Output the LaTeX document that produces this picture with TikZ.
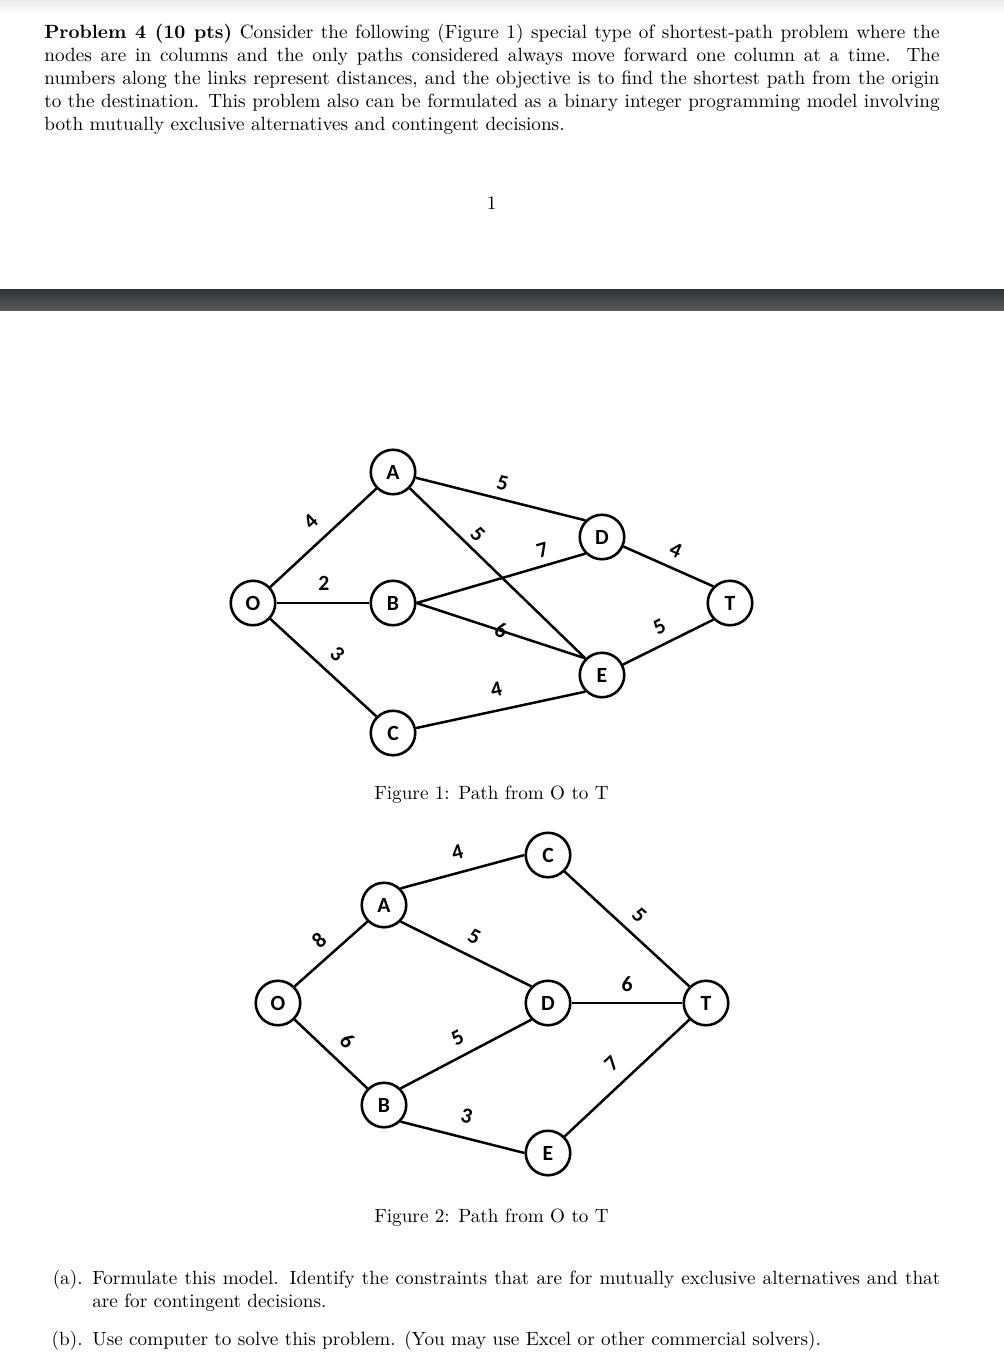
\documentclass[tikz,border=0pt]{standalone}
\usepackage{fontspec}
\newfontfamily\calib{Carlito}
\definecolor{bandtop}{HTML}{313234}
\definecolor{bandbot}{HTML}{55595D}
\begin{document}
\begin{tikzpicture}[x=0.52165pt,y=-0.52165pt,
  vtx/.style={circle,draw,line width=1.35pt,minimum size=23.2pt,inner sep=0pt,
    font=\calib\bfseries\fontsize{11.3}{12}\selectfont},
  lnk/.style={line width=1.3pt},
  lab/.style={sloped,inner sep=0pt,font=\calib\bfseries\fontsize{11.3}{12}\selectfont},
  txt/.style={inner sep=0pt,font=\fontsize{10}{12}\selectfont}]
\useasboundingbox (0,0) rectangle (1004,1361);
\fill[white] (0,0) rectangle (1004,1361);
\shade[top color=gray!16,bottom color=white] (0,0) rectangle (1004,14);
\shade[top color=bandtop,bottom color=bandbot] (0,289) rectangle (1004,310);

% text
\node[txt,anchor=base west] (para) at (44,38) {\parbox[t]{467pt}{\textbf{Problem 4 (10 pts)} Consider the following (Figure 1) special type of shortest-path problem where the nodes are in columns and the only paths considered always move forward one column at a time. The numbers along the links represent distances, and the objective is to find the shortest path from the origin to the destination. This problem also can be formulated as a binary integer programming model involving both mutually exclusive alternatives and contingent decisions.}};
\node[txt,anchor=base] (pg) at (491.6,209) {1};
\node[txt,anchor=base] (cap1) at (491.6,799) {Figure 1: Path from O to T};
\node[txt,anchor=base] (cap2) at (491.6,1222) {Figure 2: Path from O to T};
\node[txt,anchor=base east] (la) at (83,1284) {(a).};
\node[txt,anchor=base west] (ia) at (92,1284) {\parbox[t]{442.3pt}{Formulate this model. Identify the constraints that are for mutually exclusive alternatives and that are for contingent decisions.}};
\node[txt,anchor=base east] (lb) at (83,1345) {(b).};
\node[txt,anchor=base west] (ib) at (92,1345) {Use computer to solve this problem. (You may use Excel or other commercial solvers).};

% Figure 1
\node[vtx] (O1) at (253,603) {O};
\node[vtx] (A1) at (393,472) {A};
\node[vtx] (B1) at (393,603) {B};
\node[vtx] (C1) at (393,733) {C};
\node[vtx] (D1) at (602,537) {D};
\node[vtx] (E1) at (602,675) {E};
\node[vtx] (T1) at (730,603) {T};
\draw[lnk] (O1) -- node[lab,pos=.51,above=6.3pt]{4} (A1.south west);
\draw[lnk] (O1) -- node[lab,pos=.51,above=5.7pt]{2} (B1);
\draw[lnk] (O1) -- node[lab,pos=.51,above=5.6pt]{3} (C1.north west);
\draw[lnk] (A1) -- node[lab,pos=.49,above=3.8pt]{5} (D1.north west);
\draw[lnk] (A1) -- node[lab,pos=.33,above=3.3pt]{5} (E1.north west);
\draw[lnk] (B1.east) -- node[lab,pos=.77,above=3.5pt]{7} (D1.south west);
\draw[lnk] (B1.east) -- node[lab,pos=.5]{6} (E1.north west);
\draw[lnk] (C1) -- node[lab,pos=.5,above=6.8pt]{4} (E1.south west);
\draw[lnk] (D1) -- node[lab,pos=.5,above=5.1pt]{4} (T1.north west);
\draw[lnk] (E1) -- node[lab,pos=.49,above=4.8pt]{5} (T1.south west);

% Figure 2
\node[vtx] (O2) at (278,1003) {O};
\node[vtx] (A2) at (384,905) {A};
\node[vtx] (B2) at (384,1105) {B};
\node[vtx] (C2) at (548,855) {C};
\node[vtx] (D2) at (548,1003) {D};
\node[vtx] (E2) at (548,1153) {E};
\node[vtx] (T2) at (706,1003) {T};
\draw[lnk] (O2.north east) -- node[lab,pos=.5,above=4.8pt]{8} (A2.south west);
\draw[lnk] (O2.south east) -- node[lab,pos=.53,above=6.2pt]{6} (B2.north west);
\draw[lnk] (A2.north east) -- node[lab,pos=.5,above=5.9pt]{4} (C2.west);
\draw[lnk] (A2.south east) -- node[lab,pos=.5,above=5.6pt]{5} (D2.north west);
\draw[lnk] (B2.north east) -- node[lab,pos=.5,above=5.2pt]{5} (D2.south west);
\draw[lnk] (B2.south east) -- node[lab,pos=.49,above=7.1pt]{3} (E2.west);
\draw[lnk] (C2.south east) -- node[lab,pos=.5,above=5.2pt]{5} (T2.north west);
\draw[lnk] (D2) -- node[lab,pos=.5,above=5.2pt]{6} (T2);
\draw[lnk] (E2.north east) -- node[lab,pos=.49,above=6.6pt]{7} (T2.south west);
\end{tikzpicture}
\end{document}
